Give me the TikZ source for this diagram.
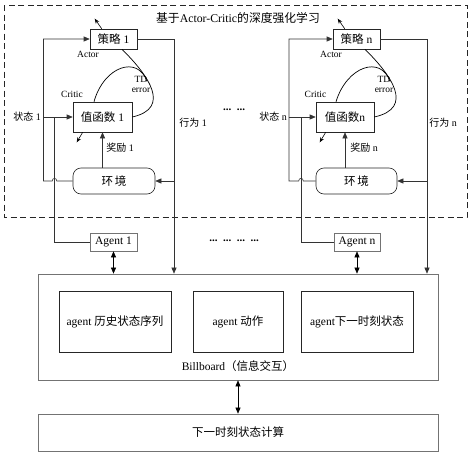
\documentclass[tikz,border=0pt]{standalone}
\usepackage{fontspec}
\setmainfont{Liberation Serif}
\newfontfamily\cjk{Noto Sans CJK SC}
\usetikzlibrary{arrows.meta,calc}
\newcommand\zh[1]{{\cjk #1}}
\begin{document}
\begin{tikzpicture}[x=1pt,y=-1pt,
  bx/.style={draw=black!85, line width=0.6pt, inner sep=0pt, fill=white},
  gbx/.style={draw=black!55, line width=0.7pt, inner sep=0pt},
  ln/.style={draw=black!80, line width=0.6pt},
  tip/.style={-{Triangle[length=6pt,width=5pt]}},
  dtip/.style={{Triangle[length=6pt,width=5pt]}-{Triangle[length=6pt,width=5pt]}},
  smtip/.style={-{Stealth[length=5pt,width=4pt]}},
  big/.style={font=\fontsize{11.5}{13}\selectfont},
  lab/.style={font=\fontsize{10}{12}\selectfont, inner sep=0pt},
  sm/.style={font=\fontsize{9.5}{9.5}\selectfont, inner sep=0pt, align=center},
]
\useasboundingbox (0,0) rectangle (474,455);
\fill[white] (0,0) rectangle (474,455);

% dashed frame
\draw[black!85, line width=0.8pt, dash pattern=on 6pt off 3.5pt] (4,5) rectangle (467,217);
\node[lab, font=\fontsize{11.8}{13}\selectfont] (title) at (238,18) {\zh{基于}Actor-Critic\zh{的深度强化学习}};

% ---------- side 1 ----------
\node[bx, minimum width=47pt, minimum height=20pt, big] (p1) at (113.5,39) {\zh{策略} 1};
\node[bx, minimum width=59pt, minimum height=30pt, big] (v1) at (102.5,117) {\zh{值函数} 1};
\node[bx, rounded corners=8pt, minimum width=82pt, minimum height=26pt, big] (e1) at (114,181) {\zh{环\,境}};
\node[gbx, fill=white, minimum width=47pt, minimum height=18pt, big] (a1) at (113.5,242) {Agent 1};

\node[sm] (actor1) at (88,54) {Actor};
\node[sm] (critic1) at (72,94) {Critic};
\node[sm] (td1) at (141,84.5) {TD\\error};
\node[lab] (s1) at (27,117) {\zh{状态} 1};
\node[lab] (b1) at (193,123) {\zh{行为} 1};
\node[lab] (r1) at (120,148) {\zh{奖励} 1};

\coordinate (L1) at (43.5,181);
\coordinate (R1) at (174,39);
\draw[ln, tip] (e1.west) -- (56.8,181) .. controls (56.8,177.5) and (52.2,177.5) .. (52.2,181) -- (L1) |- (p1.west);
\draw[ln, tip] (L1 |- v1.west) -- (v1.west);
\draw[ln] (54.5,117) |- (a1.west);
\draw[ln] (p1.east) -- (R1);
\draw[ln, tip] (R1 |- e1.east) -- (e1.east);
\draw[ln, tip] (v1.south |- e1.north) -- (v1.south);

\draw[black, line width=0.7pt] ($(p1.south)+(8.5,0)$) .. controls (148,75) and (172,108) .. (v1.east);
\draw[black, line width=0.7pt] ($(v1.north)+(-8.5,0)$) .. controls (104,66) and (138,55) .. (147,81.5);
\draw[black, line width=0.6pt, smtip] ($(p1.north west)+(12,0)$) -- ++(-7,-10);
\draw[black, line width=0.6pt, smtip] ($(v1.south west)+(10,0)$) -- ++(-6,10);

% ---------- side n ----------
\node[bx, minimum width=47pt, minimum height=20pt, big] (pn) at (356.5,39) {\zh{策略} n};
\node[bx, minimum width=58pt, minimum height=30pt, big] (vn) at (345,117) {\zh{值函数}n};
\node[bx, rounded corners=8pt, minimum width=81pt, minimum height=26pt, big] (en) at (356.5,181) {\zh{环\,境}};
\node[gbx, fill=white, minimum width=46pt, minimum height=18pt, big] (an) at (357,242) {Agent n};

\node[sm] (actorn) at (331,54) {Actor};
\node[sm] (criticn) at (315.5,94) {Critic};
\node[sm] (tdn) at (384,84.5) {TD\\error};
\node[lab] (sn) at (273,117) {\zh{状态} n};
\node[lab] (bn) at (443,123) {\zh{行为} n};
\node[lab] (rn) at (364,148) {\zh{奖励} n};

\coordinate (Ln) at (289,181);
\coordinate (Rn) at (427,39);
\draw[ln, tip] (en.west) -- (303.3,181) .. controls (303.3,177.5) and (298.7,177.5) .. (298.7,181) -- (Ln) |- (pn.west);
\draw[ln, tip] (Ln |- vn.west) -- (vn.west);
\draw[ln] (301,117) |- (an.west);
\draw[ln] (pn.east) -- (Rn);
\draw[ln, tip] (Rn |- en.east) -- (en.east);
\draw[ln, tip] (vn.south |- en.north) -- (vn.south);

\draw[black, line width=0.7pt] ($(pn.south)+(8.5,0)$) .. controls (391,75) and (415,108) .. (vn.east);
\draw[black, line width=0.7pt] ($(vn.north)+(-9,0)$) .. controls (347,66) and (381,55) .. (390,81.5);
\draw[black, line width=0.6pt, smtip] ($(pn.north west)+(12,0)$) -- ++(-7,-10);
\draw[black, line width=0.6pt, smtip] ($(vn.south west)+(10,0)$) -- ++(-6,10);

% dots
\node[lab, font=\fontsize{11}{12}\selectfont\bfseries] (dotsA) at (234,110) {...\ \ ...};
\node[lab, font=\fontsize{11}{12}\selectfont\bfseries] (dotsB) at (234,241) {...\ \ ...\ \ ...\ \ ...};

% ---------- billboard ----------
\node[gbx, minimum width=400pt, minimum height=106pt] (bb) at (238,327) {};
\node[bx, fill=none, minimum width=112pt, minimum height=61pt, big] (h1) at (115,321.5) {agent \zh{历史状态序列}};
\node[bx, fill=none, minimum width=90pt, minimum height=61pt, big] (h2) at (238,321.5) {agent \zh{动作}};
\node[bx, fill=none, minimum width=112pt, minimum height=61pt, big] (h3) at (357,321.5) {agent\zh{下一时刻状态}};
\node[big, inner sep=0pt] (bbl) at (238,366) {Billboard\zh{（信息交互）}};
\node[gbx, minimum width=400pt, minimum height=37pt, big] (nx) at (238,432.5) {\zh{下一时刻状态计算}};

\draw[ln, tip] (R1) -- (R1 |- bb.north);
\draw[ln, tip] (Rn) -- (Rn |- bb.north);
\draw[black, line width=0.6pt, dtip] (a1.south) -- (a1.south |- bb.north);
\draw[black, line width=0.6pt, dtip] (an.south) -- (an.south |- bb.north);
\draw[black, line width=0.6pt, dtip] (bb.south) -- (nx.north);
\end{tikzpicture}
\end{document}
